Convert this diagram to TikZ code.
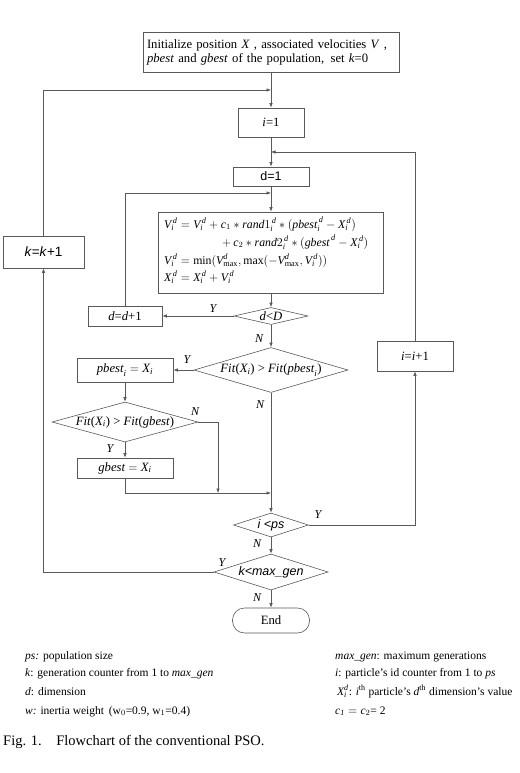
\documentclass[tikz,border=0pt]{standalone}
\usepackage{amsmath}
\usepackage{fontspec}
\setmainfont{Liberation Serif}
\setsansfont{Liberation Sans}
\usetikzlibrary{arrows.meta,shapes.geometric,calc}
\newcommand\I[1]{\textit{#1}}
\begin{document}
\begin{tikzpicture}[x=1pt,y=-1pt,
  line/.style={draw=black!65, line width=0.6pt},
  arr/.style={line, -{Latex[length=4.5pt,width=3.5pt]}},
  box/.style={line, rectangle, inner sep=0pt, font=\fontsize{12.7}{14}\selectfont},
  dia/.style={line, diamond, inner sep=0pt, font=\fontsize{12.7}{14}\selectfont},
  sbox/.style={font=\sffamily\fontsize{12.5}{14}\selectfont},
  ftx/.style={anchor=base west, inner sep=0pt, font=\fontsize{11.8}{14}\selectfont},
  lab/.style={font=\fontsize{12}{13}\selectfont\itshape, inner sep=0pt},
  leg/.style={font=\fontsize{11.5}{13}\selectfont, anchor=base west, inner sep=0pt}]
\useasboundingbox (0,0) rectangle (519,773);
% nodes
\node[box, minimum width=256, minimum height=40, text width=248, align=left] (init) at (271,52)
  {Initialize position \I{X} , associated velocities \I{V} ,\\ \I{pbest} and \I{gbest} of the population,\, set \I{k}=0};
\node[box, minimum width=66, minimum height=29] (i1) at (271,122.5) {\I{i}=1};
\node[box, sbox, minimum width=76, minimum height=19] (d1) at (271,176.5) {d=1};
\node[box, minimum width=225, minimum height=81] (form) at (271,252.5) {};
\node[ftx] (f1) at (164,228) {$\I{V}_{\I{i}}^{\,\I{d}}=\I{V}_{\I{i}}^{\,\I{d}}+\I{c}_1*\I{rand}1_{\I{i}}^{\,\I{d}}*(\I{pbest}_{\I{i}}^{\,\I{d}}-\I{X}_{\I{i}}^{\,\I{d}})$};
\node[ftx] (f2) at (222,246) {$+\,\I{c}_2*\I{rand}2_{\I{i}}^{\,\I{d}}*(\I{gbest}^{\,\I{d}}-\I{X}_{\I{i}}^{\,\I{d}})$};
\node[ftx] (f3) at (164,264) {$\I{V}_{\I{i}}^{\,\I{d}}=\min(\I{V}_{\max}^{\I{d}},\max(-\I{V}_{\max}^{\I{d}},\I{V}_{\I{i}}^{\,\I{d}}))$};
\node[ftx] (f4) at (164,281) {$\I{X}_{\I{i}}^{\,\I{d}}=\I{X}_{\I{i}}^{\,\I{d}}+\I{V}_{\I{i}}^{\,\I{d}}$};
\node[dia, minimum width=74, minimum height=17] (dD) at (271,316) {\makebox[0pt]{\I{d}<\I{D}}};
\node[box, minimum width=74, minimum height=20] (dd1) at (125,316) {\I{d}=\I{d}+1};
\node[dia, minimum width=154, minimum height=45] (fp) at (271,370) {\makebox[0pt]{\I{Fit}($\I{X}_{\I{i}}$) > \I{Fit}($\I{pbest}_{\I{i}}$)}};
\node[box, minimum width=96, minimum height=24] (pb) at (125,370) {$\I{pbest}_{\I{i}}=\I{X}_{\I{i}}$};
\node[dia, minimum width=146, minimum height=40] (fg) at (125,422) {\makebox[0pt]{\I{Fit}($\I{X}_{\I{i}}$) > \I{Fit}(\I{gbest})}};
\node[box, minimum width=96, minimum height=20] (gb) at (125,468) {$\I{gbest}=\I{X}_{\I{i}}$};
\node[dia, sbox, minimum width=75, minimum height=24] (ips) at (271,525) {\makebox[0pt]{\itshape i <ps}};
\node[box, minimum width=76, minimum height=30] (ii1) at (415,356) {\I{i}=\I{i}+1};
\node[dia, sbox, minimum width=114, minimum height=36] (kmg) at (271,572) {\makebox[0pt]{\itshape k<max\_gen}};
\node[box, minimum width=81, minimum height=32, font=\sffamily\fontsize{13.5}{15}\selectfont] (kk1) at (43.5,252) {\I{k}=\I{k}+1};
\node[box, minimum width=77, minimum height=25, rounded corners=12pt] (end) at (271,620.5) {End};
% junctions
\coordinate (kj) at (271,90);
\coordinate (ij) at (271,152);
\coordinate (dj) at (271,193);
\coordinate (mj) at (271,493);
\coordinate (nj) at (218,493);
% connectors
\draw[arr] (init.south) -- (i1.north);
\draw[arr] (kk1.north) |- (kj);
\draw[arr] (i1.south) -- (d1.north);
\draw[arr] (ii1.north) |- (ij);
\draw[arr] (d1.south) -- (form.north);
\draw[arr] (dd1.north) |- (dj);
\draw[arr] (form.south) -- (dD.north);
\draw[arr] (dD.west) -- (dd1.east);
\draw[arr] (dD.south) -- (fp.north);
\draw[arr] (fp.west) -- (pb.east);
\draw[arr] (pb.south) -- (fg.north);
\draw[arr] (fg.south) -- (gb.north);
\draw[arr] (fg.east) -| (nj);
\draw[arr] (gb.south) |- (mj);
\draw[arr] (fp.south) -- (ips.north);
\draw[arr] (ips.east) -| (ii1.south);
\draw[arr] (ips.south) -- (kmg.north);
\draw[arr] (kmg.west) -| (kk1.south);
\draw[arr] (kmg.south) -- (end.north);
% labels
\node[lab] (l1) at (213,309) {Y};
\node[lab] (l2) at (259,339) {N};
\node[lab] (l3) at (187,360) {Y};
\node[lab] (l4) at (260,405) {N};
\node[lab] (l5) at (195,412) {N};
\node[lab] (l6) at (110,449) {Y};
\node[lab] (l7) at (318,515) {Y};
\node[lab] (l8) at (257,544) {N};
\node[lab] (l9) at (222,563) {Y};
\node[lab] (l10) at (257,598) {N};
% legend
\node[leg] (g1) at (25,659) {\I{ps:} population size};
\node[leg] (g2) at (25,676) {\I{k}: generation counter from 1 to \I{max\_gen}};
\node[leg] (g3) at (25,695) {\I{d}: dimension};
\node[leg] (g4) at (25,714) {\I{w:} inertia weight\, (w$_0$=0.9, w$_1$=0.4)};
\node[leg] (g5) at (335,659) {\I{max\_gen}: maximum generations};
\node[leg] (g6) at (335,676) {\I{i}: particle's id counter from 1 to \I{ps}};
\node[leg] (g7) at (337,695) {$\I{X}_{\I{i}}^{\I{d}}$: \I{i}\textsuperscript{th} particle's \I{d}\textsuperscript{th} dimension's value};
\node[leg] (g8) at (335,714) {$\I{c}_{\I{1}}=\I{c}_2$= 2};
\node[font=\fontsize{14.5}{16}\selectfont, anchor=base west, inner sep=0pt] (cap) at (3,745) {Fig. 1.\quad Flowchart of the conventional PSO.};
\end{tikzpicture}
\end{document}
